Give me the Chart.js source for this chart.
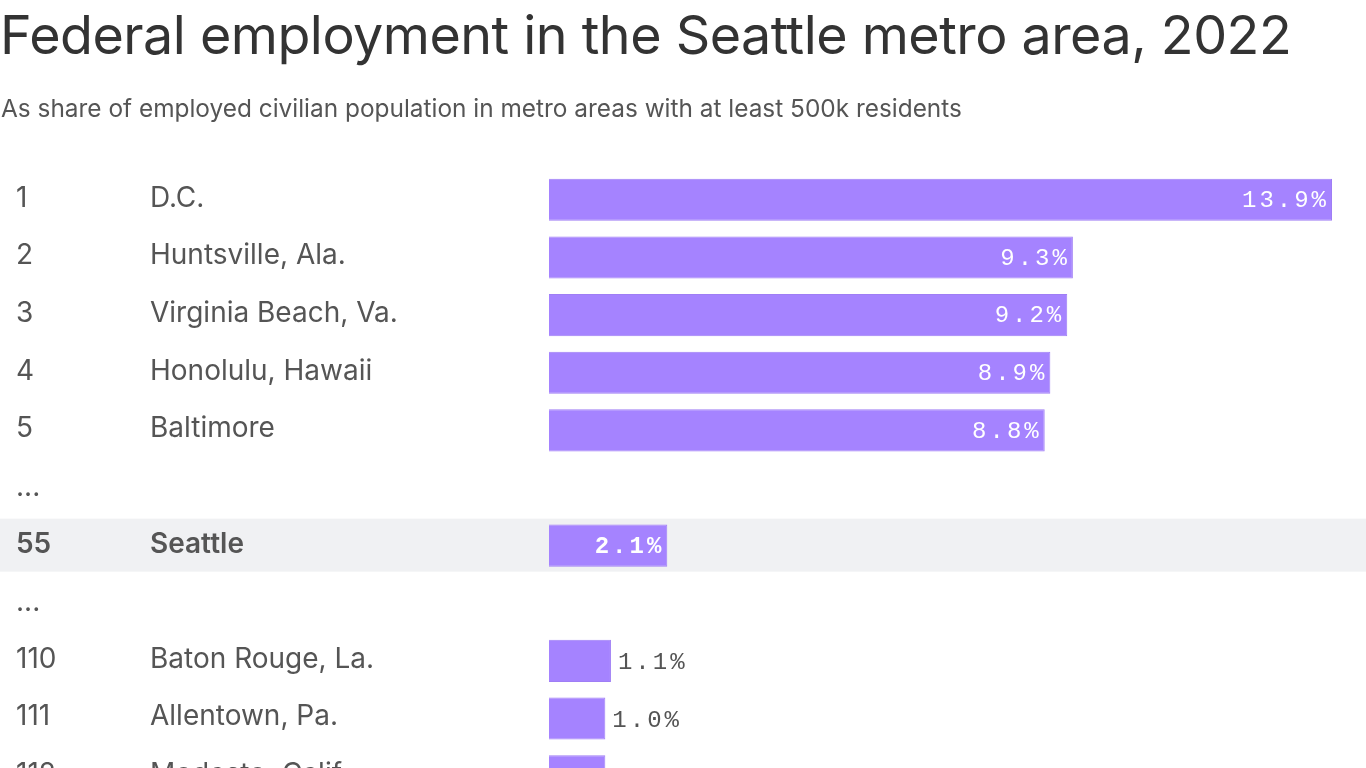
<!DOCTYPE html>
<html>
<head>
<meta charset="utf-8">
<script src="https://cdn.jsdelivr.net/npm/chart.js@4"></script>
<style>
  body { margin: 0; overflow: hidden; background: #fff; font-family: Inter, "Noto Sans", sans-serif; }
  h1 { position: absolute; left: 0; top: -1px; margin: 0; font-size: 53.8px; font-weight: 400; color: #333; line-height: 72px; letter-spacing: -0.5px; white-space: nowrap; }
  .sub { position: absolute; left: 1px; top: 93px; margin: 0; font-size: 24.4px; color: #555; white-space: nowrap; }
  #wrap { position: absolute; left: 0; top: 0; width: 1366px; height: 805px; }
</style>
</head>
<body>
<div id="wrap"><canvas id="fedChart"></canvas></div>
<h1>Federal employment in the Seattle metro area, 2022</h1>
<p class="sub">As share of employed civilian population in metro areas with at least 500k residents</p>
<script>
// rows of the table, "..." rows have no bar
const ranks = ['1', '2', '3', '4', '5', '...', '55', '...', '110', '111', '112'];
const metros = ['D.C.', 'Huntsville, Ala.', 'Virginia Beach, Va.', 'Honolulu, Hawaii', 'Baltimore', '', 'Seattle', '', 'Baton Rouge, La.', 'Allentown, Pa.', 'Modesto, Calif.'];
const shares = [13.9, 9.3, 9.2, 8.9, 8.8, null, 2.1, null, 1.1, 1.0, 1.0];
const highlight = 'Seattle';

const rowLabels = {
    id: 'rowLabels',
    beforeDatasetsDraw(chart) {
        const ctx = chart.ctx;
        const y = chart.scales.y;
        ctx.save();
        metros.forEach((m, i) => {
            const yp = y.getPixelForValue(i);
            if (m === highlight) {
                ctx.fillStyle = '#f0f1f3';
                ctx.fillRect(0, yp - 27, chart.width, 53);
            }
        });
        ctx.textBaseline = 'middle';
        ctx.fillStyle = '#555';
        metros.forEach((m, i) => {
            const yp = y.getPixelForValue(i) - 1.5;
            const bold = m === highlight ? '600 ' : '400 ';
            ctx.font = bold + '28px Inter, "Noto Sans", sans-serif';
            ctx.fillText(ranks[i], 16, ranks[i] === '...' ? yp + 1 : yp);
            ctx.fillText(m, 150, yp);
        });
        ctx.restore();
    },
    afterDatasetsDraw(chart) {
        const ctx = chart.ctx;
        const meta = chart.getDatasetMeta(0);
        ctx.save();
        ctx.textBaseline = 'middle';
        ctx.letterSpacing = '3px';
        meta.data.forEach((bar, i) => {
            const v = shares[i];
            if (v === null) return;
            const txt = v.toFixed(1) + '%';
            ctx.font = (metros[i] === highlight ? 'bold ' : '') + '24px "Liberation Mono", monospace';
            if (v >= 2) {
                ctx.fillStyle = '#fff';
                ctx.textAlign = 'right';
                ctx.fillText(txt, bar.x - 3, bar.y + 1);
            } else {
                ctx.fillStyle = '#555';
                ctx.textAlign = 'left';
                ctx.fillText(txt, bar.x + 7, bar.y + 2);
            }
        });
        ctx.restore();
    }
};

new Chart(document.getElementById('fedChart'), {
    type: 'bar',
    data: {
        labels: metros.map((m, i) => i),
        datasets: [{
            data: shares,
            backgroundColor: '#a583ff',
            borderColor: '#9f7ef5',
            borderWidth: 1,
            barPercentage: 0.73,
            categoryPercentage: 1
        }]
    },
    options: {
        indexAxis: 'y',
        responsive: true,
        maintainAspectRatio: false,
        animation: false,
        layout: { padding: { left: 549, right: 34, top: 171, bottom: 0 } },
        scales: {
            x: { display: false, min: 0, max: 13.9 },
            y: { display: false }
        },
        plugins: {
            legend: { display: false },
            tooltip: { enabled: false }
        }
    },
    plugins: [rowLabels]
});
</script>
</body>
</html>
